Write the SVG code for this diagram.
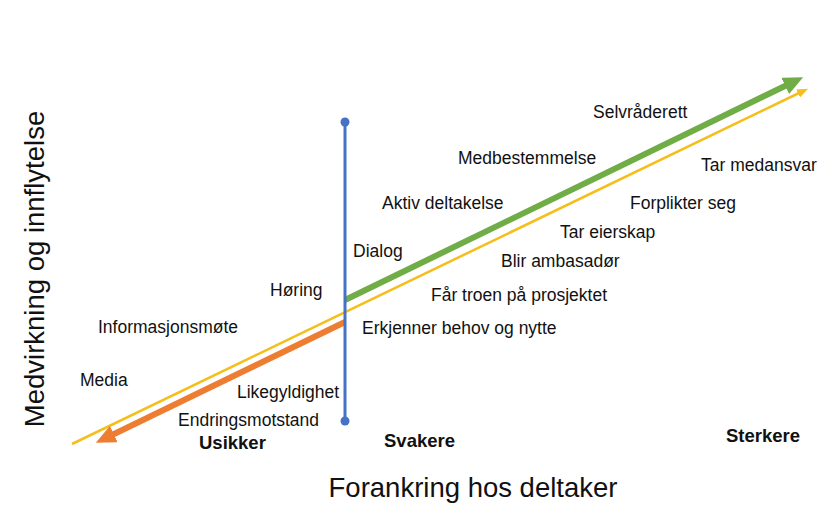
<svg xmlns="http://www.w3.org/2000/svg" width="840" height="514" viewBox="0 0 840 514">
<style>
text{font-family:"Liberation Sans",Arial,sans-serif;fill:#111}
.l{font-size:17.5px}
.b{font-size:18.5px;font-weight:bold}
.t{font-size:27.5px}
</style>
<defs>
<marker id="ag" markerUnits="userSpaceOnUse" markerWidth="20" markerHeight="18" viewBox="0 0 20 18" refX="2" refY="9" orient="auto"><path d="M0,0 L20,9 L0,18 z" fill="#70AD47"/></marker>
<marker id="ao" markerUnits="userSpaceOnUse" markerWidth="20" markerHeight="18" viewBox="0 0 20 18" refX="2" refY="9" orient="auto"><path d="M0,0 L20,9 L0,18 z" fill="#ED7D31"/></marker>
<marker id="ay" markerUnits="userSpaceOnUse" markerWidth="11" markerHeight="9" viewBox="0 0 11 9" refX="1" refY="4.5" orient="auto"><path d="M0,0 L11,4.5 L0,9 z" fill="#F5BE1B"/></marker>
</defs>
<rect width="840" height="514" fill="#fff"/>
<g id="connectors">
<line x1="72" y1="444" x2="799" y2="93" stroke="#F5BE1B" stroke-width="2.5" marker-end="url(#ay)"/>
<line x1="345" y1="300" x2="787" y2="85" stroke="#70AD47" stroke-width="6" marker-end="url(#ag)"/>
<line x1="345" y1="322" x2="112" y2="435" stroke="#ED7D31" stroke-width="6" marker-end="url(#ao)"/>
<line x1="345" y1="122" x2="345" y2="421" stroke="#4472C4" stroke-width="3"/>
<circle cx="345" cy="122" r="4.5" fill="#4472C4"/>
<circle cx="345" cy="421" r="4.5" fill="#4472C4"/>
</g>
<g id="selvraderett"><text class="l" x="593" y="118">Selvråderett</text></g>
<g id="medbestemmelse"><text class="l" x="458" y="164">Medbestemmelse</text></g>
<g id="aktiv-deltakelse"><text class="l" x="382" y="209">Aktiv deltakelse</text></g>
<g id="dialog"><text class="l" x="353" y="257">Dialog</text></g>
<g id="horing"><text class="l" x="270" y="296">Høring</text></g>
<g id="informasjonsmote"><text class="l" x="98" y="333">Informasjonsmøte</text></g>
<g id="media"><text class="l" x="80" y="386">Media</text></g>
<g id="likegyldighet"><text class="l" x="237" y="398">Likegyldighet</text></g>
<g id="endringsmotstand"><text class="l" x="178" y="426">Endringsmotstand</text></g>
<g id="tar-medansvar"><text class="l" x="701" y="171">Tar medansvar</text></g>
<g id="forplikter-seg"><text class="l" x="630" y="209">Forplikter seg</text></g>
<g id="tar-eierskap"><text class="l" x="560" y="238">Tar eierskap</text></g>
<g id="blir-ambasador"><text class="l" x="501" y="267">Blir ambasadør</text></g>
<g id="far-troen"><text class="l" x="431" y="301">Får troen på prosjektet</text></g>
<g id="erkjenner"><text class="l" x="362" y="334">Erkjenner behov og nytte</text></g>
<g id="usikker"><text class="b" x="199" y="449">Usikker</text></g>
<g id="svakere"><text class="b" x="384" y="447">Svakere</text></g>
<g id="sterkere"><text class="b" x="726" y="442">Sterkere</text></g>
<g id="x-axis-title"><text class="t" x="473" y="497" text-anchor="middle">Forankring hos deltaker</text></g>
<g id="y-axis-title"><text class="t" x="0" y="0" text-anchor="middle" transform="translate(44,269) rotate(-90)">Medvirkning og innflytelse</text></g>
</svg>
